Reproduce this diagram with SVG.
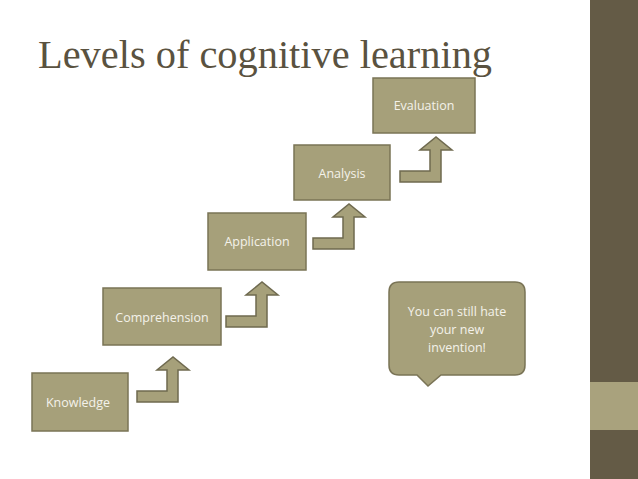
<svg xmlns="http://www.w3.org/2000/svg" width="638" height="479" viewBox="0 0 638 479">
<style>
.box{fill:#a6a07a;stroke:#7a7456;stroke-width:1.5}
.lbl{font-family:"Open Sans","DejaVu Sans",sans-serif;font-size:12.5px;fill:#f4f2ea;text-anchor:middle}
.arr{fill:#a6a07a;stroke:#6f6a4f;stroke-width:1.5}
</style>
<defs>
<path id="ba" d="M0,0 L30,0 L30,-21 L20,-21 L36,-34 L52,-21 L41,-21 L41,11 L0,11 Z"/>
</defs>
<rect width="638" height="479" fill="#ffffff"/>
<rect x="590" y="0" width="48" height="479" fill="#645b46"/>
<rect x="590" y="382" width="48" height="48" fill="#a9a27d"/>
<text x="38" y="68" font-family="Liberation Serif,serif" font-size="40" fill="#5a5240" textLength="454" lengthAdjust="spacingAndGlyphs">Levels of cognitive learning</text>
<g id="connectors">
<use href="#ba" class="arr" x="137" y="391"/>
<use href="#ba" class="arr" x="226" y="316"/>
<use href="#ba" class="arr" x="313" y="238"/>
<use href="#ba" class="arr" x="400" y="171"/>
</g>
<g id="knowledge"><rect class="box" x="32" y="373" width="96" height="58"/><text class="lbl" x="78" y="407">Knowledge</text></g>
<g id="comprehension"><rect class="box" x="103" y="288" width="118" height="57"/><text class="lbl" x="162" y="322">Comprehension</text></g>
<g id="application"><rect class="box" x="208" y="213" width="98" height="57"/><text class="lbl" x="257" y="246">Application</text></g>
<g id="analysis"><rect class="box" x="294" y="145" width="96" height="55"/><text class="lbl" x="342" y="178">Analysis</text></g>
<g id="evaluation"><rect class="box" x="373" y="78" width="102" height="55"/><text class="lbl" x="424" y="110">Evaluation</text></g>
<g id="callout">
<path class="box" d="M399,282 L515,282 Q525,282 525,292 L525,365 Q525,375 515,375 L441,375 L428,386 L417,375 L399,375 Q389,375 389,365 L389,292 Q389,282 399,282 Z"/>
<text class="lbl" x="457" y="316">You  can still hate</text>
<text class="lbl" x="457" y="334">your new</text>
<text class="lbl" x="457" y="352">invention!</text>
</g>
</svg>
